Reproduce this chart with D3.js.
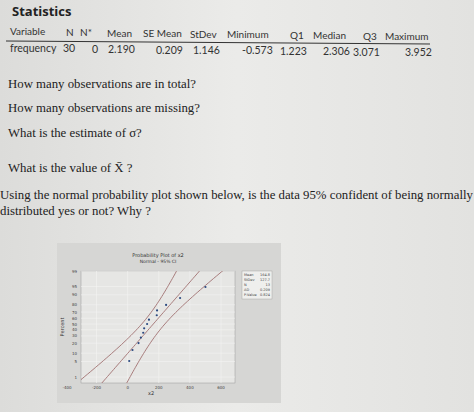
<!DOCTYPE html><html><head><meta charset="utf-8">
<script src="https://cdn.jsdelivr.net/npm/d3@7"></script>
<style>body{margin:0;background:#e4e4e2}svg{display:block}</style></head><body>
<svg id="c" width="474" height="412"></svg>
<script>
const headers=["Variable","N","N*","Mean","SE Mean","StDev","Minimum","Q1","Median","Q3","Maximum"];
const row=["frequency","30","0","2.190","0.209","1.146","-0.573","1.223","2.306","3.071","3.952"];
const headerX=[10,66,80,107,143,190,227,290,313,363,385];
const rowX=[10,63,92,108,156,193,242,280,323,353,405];
const questions=["How many observations are in total?","How many observations are missing?","What is the estimate of σ?","What is the value of X̄ ?","Using the normal probability plot shown below, is the data 95% confident of being normally","distributed yes or not? Why ?"];
const qY=[88,112,137,172,199,215];
const xs=[10,31,70,85,100,106,125,137,187,189,247,337,500];
const pTicks=[1,5,10,20,30,40,50,60,70,80,90,95,99];
const xTicks=[-400,-200,0,200,400,600];
const legendLab=["Mean","StDev","N","AD","P-Value"], legendVal=["164.8","127.7","13","0.209","0.824"];
const mean=164.8, sd=127.7;
const svg=d3.select("#c");
const g=svg.append("defs").append("linearGradient").attr("id","bg").attr("x1",0).attr("x2",1);
g.append("stop").attr("offset",0).attr("stop-color","#dcdcda");g.append("stop").attr("offset",0.5).attr("stop-color","#ebebe9");g.append("stop").attr("offset",1).attr("stop-color","#e2e2e0");
svg.append("rect").attr("width",474).attr("height",412).attr("fill","url(#bg)");
svg.append("text").attr("x",12).attr("y",16).text("Statistics").attr("font-family","Open Sans").attr("font-weight","bold").attr("font-size",13).attr("fill","#222");
const sans="Lato";
headers.forEach((h,i)=>svg.append("text").attr("x",headerX[i]).attr("y",35+i*0.5).text(h).attr("font-family",sans).attr("font-size",10).attr("fill","#333"));
svg.append("line").attr("x1",6).attr("x2",430).attr("y1",41).attr("y2",44).attr("stroke","#333").attr("stroke-width",1);
row.forEach((h,i)=>svg.append("text").attr("x",rowX[i]).attr("y",52+i*0.4).text(h).attr("font-family",sans).attr("font-size",10.5).attr("fill","#333"));
questions.forEach((q,i)=>svg.append("text").attr("x",i>=4?0:8).attr("y",qY[i]).text(q).attr("font-family","Liberation Serif").attr("font-size",12.8).attr("fill","#222"));
svg.append("rect").attr("x",57).attr("y",243).attr("width",224).attr("height",160).attr("fill","#d6d6d4");
const L=81,R=235,T=271,B=383;
svg.append("rect").attr("x",L).attr("y",T).attr("width",R-L).attr("height",B-T).attr("fill","#e6e6e4").attr("stroke","#999").attr("stroke-width",0.5);
const x=d3.scaleLinear().domain([-300,690]).range([L,R]);
function qn(p){const a=[-39.69683028665376,220.9460984245205,-275.9285104469687,138.357751867269,-30.66479806614716,2.506628277459239],b=[-54.47609879822406,161.5858368580409,-155.6989798598866,66.80131188771972,-13.28068155288572],c=[-0.007784894002430293,-0.3223964580411365,-2.400758277161838,-2.549732539343734,4.374664141464968,2.938163982698783],d=[0.007784695709041462,0.3224671290700398,2.445134137142996,3.754408661907416];let q,r;if(p<0.02425){q=Math.sqrt(-2*Math.log(p));return(((((c[0]*q+c[1])*q+c[2])*q+c[3])*q+c[4])*q+c[5])/((((d[0]*q+d[1])*q+d[2])*q+d[3])*q+1);}if(p>1-0.02425)return -qn(1-p);q=p-0.5;r=q*q;return(((((a[0]*r+a[1])*r+a[2])*r+a[3])*r+a[4])*r+a[5])*q/(((((b[0]*r+b[1])*r+b[2])*r+b[3])*r+b[4])*r+1);}
const y=d3.scaleLinear().domain([qn(0.01),qn(0.99)]).range([B-6,T]);
const small={"font-family":"DejaVu Sans","font-size":4,"fill":"#444"};
pTicks.forEach(p=>{const yy=y(qn(p/100));svg.append("line").attr("x1",L).attr("x2",R).attr("y1",yy).attr("y2",yy).attr("stroke","#f4f4f2").attr("stroke-width",0.6);
 const t=svg.append("text").attr("x",L-4).attr("y",yy+1.5).attr("text-anchor","end").text(p);Object.entries(small).forEach(([k,v])=>t.attr(k,v));});
xTicks.forEach(v=>{const xx=x(v);if(xx>L&&xx<R)svg.append("line").attr("x1",xx).attr("x2",xx).attr("y1",T).attr("y2",B).attr("stroke","#f4f4f2").attr("stroke-width",0.6);
 const t=svg.append("text").attr("x",Math.max(xx,L-12)+(v===-400?-2:0)).attr("y",B+6).attr("text-anchor","middle").text(v);Object.entries(small).forEach(([k,vv])=>t.attr(k,vv));});
const zs=d3.range(-2.6,2.61,0.1);
const fit=d3.line().x(z=>x(mean+sd*z)).y(z=>y(z));
const n=xs.length;
const band=s=>d3.line().x(z=>x(mean+sd*z+s*sd*Math.sqrt(1/n+z*z/(2*(n-1)))*2.1)).y(z=>y(z));
svg.append("clipPath").attr("id","cp").append("rect").attr("x",L).attr("y",T).attr("width",R-L).attr("height",B-T);
const pg=svg.append("g").attr("clip-path","url(#cp)");
pg.append("path").attr("d",fit(zs)).attr("fill","none").attr("stroke","#a07070").attr("stroke-width",0.9);
[-1,1].forEach(s=>pg.append("path").attr("d",band(s)(zs)).attr("fill","none").attr("stroke","#a07070").attr("stroke-width",0.9));
xs.forEach((v,i)=>{const p=(i+1-0.3)/(n+0.4);pg.append("circle").attr("cx",x(v)).attr("cy",y(qn(p))).attr("r",1.1).attr("fill","#2c4a80");});
svg.append("text").attr("x",158).attr("y",257).attr("text-anchor","middle").text("Probability Plot of x2").attr("font-family","DejaVu Sans").attr("font-size",5).attr("fill","#333");
svg.append("text").attr("x",158).attr("y",263).attr("text-anchor","middle").text("Normal - 95% CI").attr("font-family","DejaVu Sans").attr("font-size",4.5).attr("fill","#333");
svg.append("text").attr("x",151).attr("y",395).attr("text-anchor","middle").text("x2").attr("font-family","DejaVu Sans").attr("font-size",5).attr("fill","#333");
svg.append("text").attr("transform","translate(64,327) rotate(-90)").attr("text-anchor","middle").text("Percent").attr("font-family","DejaVu Sans").attr("font-size",5).attr("fill","#333");
svg.append("rect").attr("x",242).attr("y",271).attr("width",30).attr("height",28).attr("fill","#efefed").attr("stroke","#999").attr("stroke-width",0.4);
legendLab.forEach((l,i)=>{svg.append("text").attr("x",244).attr("y",276+i*5).text(l).attr("font-family","DejaVu Sans").attr("font-size",3.5).attr("fill","#444");
 svg.append("text").attr("x",270).attr("y",276+i*5).attr("text-anchor","end").text(legendVal[i]).attr("font-family","DejaVu Sans").attr("font-size",3.5).attr("fill","#444");});
</script></body></html>
